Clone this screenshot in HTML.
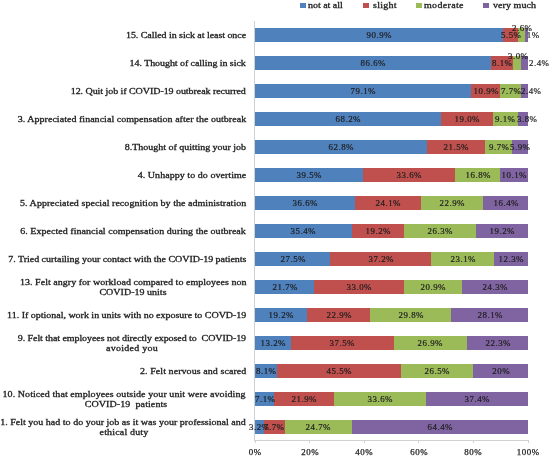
<!DOCTYPE html>
<html><head><meta charset="utf-8"><style>
html,body{margin:0;padding:0;background:#fff;}
body{width:550px;height:458px;position:relative;overflow:hidden;font-family:"Liberation Serif",serif;color:#1e1e1e;}
.b{position:absolute;height:14px;}
.v{position:absolute;font-size:8.4px;line-height:10px;height:10px;white-space:nowrap;letter-spacing:0.48px;text-indent:0.48px;transform:translateX(-50%) scaleX(1.06);transform-origin:50% 0;-webkit-text-stroke:0.2px #1e1e1e;}
.c{position:absolute;font-size:8.5px;line-height:12px;height:12px;white-space:nowrap;-webkit-text-stroke:0.3px #1e1e1e;}
.r{right:304.0px;transform:scaleX(1.1765);transform-origin:100% 50%;}
.m{transform:translateX(-50%) scaleX(1.1765);transform-origin:50% 50%;}
.t{position:absolute;font-size:8.4px;line-height:10px;white-space:nowrap;letter-spacing:0.48px;text-indent:0.48px;transform:translateX(-50%) scaleX(1.06);transform-origin:50% 0;-webkit-text-stroke:0.25px #1e1e1e;}
.lg{position:absolute;top:-0.7px;font-size:8.5px;line-height:12px;white-space:nowrap;-webkit-text-stroke:0.3px #1e1e1e;transform:scaleX(1.1765);transform-origin:0 50%;}
.sq{position:absolute;width:6px;height:5px;top:3px;}
.c,.v,.t,.lg{will-change:transform;}
</style></head><body>

<div style="position:absolute;left:254px;top:21px;width:1px;height:420px;background:#d0d0d0"></div>
<div style="position:absolute;left:254px;top:440px;width:275px;height:1px;background:#d0d0d0"></div>
<div style="position:absolute;left:254.5px;top:440px;width:1px;height:3px;background:#d0d0d0"></div>
<div class="t" style="left:255.0px;top:448px">0%</div>
<div style="position:absolute;left:309.1px;top:440px;width:1px;height:3px;background:#d0d0d0"></div>
<div class="t" style="left:309.6px;top:448px">20%</div>
<div style="position:absolute;left:363.7px;top:440px;width:1px;height:3px;background:#d0d0d0"></div>
<div class="t" style="left:364.2px;top:448px">40%</div>
<div style="position:absolute;left:418.3px;top:440px;width:1px;height:3px;background:#d0d0d0"></div>
<div class="t" style="left:418.8px;top:448px">60%</div>
<div style="position:absolute;left:472.9px;top:440px;width:1px;height:3px;background:#d0d0d0"></div>
<div class="t" style="left:473.4px;top:448px">80%</div>
<div style="position:absolute;left:527.5px;top:440px;width:1px;height:3px;background:#d0d0d0"></div>
<div class="t" style="left:528.0px;top:448px">100%</div>
<div class="b" style="left:255.00px;top:28px;width:248.16px;background:#4f81bd"></div>
<div class="b" style="left:503.16px;top:28px;width:15.01px;background:#c0504d"></div>
<div class="b" style="left:518.17px;top:28px;width:7.10px;background:#9bbb59"></div>
<div class="b" style="left:525.27px;top:28px;width:2.73px;background:#8064a2"></div>
<div class="v" style="left:379.08px;top:31.2px">90.9%</div>
<div class="v" style="left:510.66px;top:31.2px">5.5%</div>
<div class="v" style="left:521.72px;top:24.2px">2.6%</div>
<div class="v" style="left:532.63px;top:31.2px">1%</div>
<div class="c r" style="top:28.8px;letter-spacing:-0.050px;margin-right:0.050px">15. Called in sick at least once</div>
<div class="b" style="left:255.00px;top:56px;width:236.18px;background:#4f81bd"></div>
<div class="b" style="left:491.18px;top:56px;width:22.09px;background:#c0504d"></div>
<div class="b" style="left:513.27px;top:56px;width:8.18px;background:#9bbb59"></div>
<div class="b" style="left:521.45px;top:56px;width:6.55px;background:#8064a2"></div>
<div class="v" style="left:373.09px;top:59.2px">86.6%</div>
<div class="v" style="left:502.23px;top:59.2px">8.1%</div>
<div class="v" style="left:518.36px;top:52.2px">3.0%</div>
<div class="v" style="left:538.73px;top:59.2px">2.4%</div>
<div class="c r" style="top:56.8px;letter-spacing:-0.057px;margin-right:0.057px">14. Thought of calling in sick</div>
<div class="b" style="left:255.00px;top:84px;width:215.73px;background:#4f81bd"></div>
<div class="b" style="left:470.73px;top:84px;width:29.73px;background:#c0504d"></div>
<div class="b" style="left:500.45px;top:84px;width:21.00px;background:#9bbb59"></div>
<div class="b" style="left:521.45px;top:84px;width:6.55px;background:#8064a2"></div>
<div class="v" style="left:362.86px;top:87.2px">79.1%</div>
<div class="v" style="left:485.59px;top:87.2px">10.9%</div>
<div class="v" style="left:510.95px;top:87.2px">7.7%</div>
<div class="v" style="left:530.73px;top:87.2px">2.4%</div>
<div class="c r" style="top:84.8px;letter-spacing:-0.048px;margin-right:0.048px">12. Quit job if COVID-19 outbreak recurred</div>
<div class="b" style="left:255.00px;top:112px;width:186.00px;background:#4f81bd"></div>
<div class="b" style="left:441.00px;top:112px;width:51.82px;background:#c0504d"></div>
<div class="b" style="left:492.82px;top:112px;width:24.82px;background:#9bbb59"></div>
<div class="b" style="left:517.64px;top:112px;width:10.36px;background:#8064a2"></div>
<div class="v" style="left:348.00px;top:115.2px">68.2%</div>
<div class="v" style="left:466.91px;top:115.2px">19.0%</div>
<div class="v" style="left:505.23px;top:115.2px">9.1%</div>
<div class="v" style="left:526.82px;top:115.2px">3.8%</div>
<div class="c r" style="top:112.8px;letter-spacing:0.024px;margin-right:-0.024px">3. Appreciated financial compensation after the outbreak</div>
<div class="b" style="left:255.00px;top:140px;width:171.62px;background:#4f81bd"></div>
<div class="b" style="left:426.62px;top:140px;width:58.75px;background:#c0504d"></div>
<div class="b" style="left:485.37px;top:140px;width:26.51px;background:#9bbb59"></div>
<div class="b" style="left:511.88px;top:140px;width:16.12px;background:#8064a2"></div>
<div class="v" style="left:340.81px;top:143.2px">62.8%</div>
<div class="v" style="left:455.99px;top:143.2px">21.5%</div>
<div class="v" style="left:498.62px;top:143.2px">9.7%</div>
<div class="v" style="left:519.94px;top:143.2px">5.9%</div>
<div class="c r" style="top:140.8px;letter-spacing:-0.020px;margin-right:0.020px">8.Thought of quitting your job</div>
<div class="b" style="left:255.00px;top:168px;width:107.83px;background:#4f81bd"></div>
<div class="b" style="left:362.83px;top:168px;width:91.73px;background:#c0504d"></div>
<div class="b" style="left:454.56px;top:168px;width:45.86px;background:#9bbb59"></div>
<div class="b" style="left:500.43px;top:168px;width:27.57px;background:#8064a2"></div>
<div class="v" style="left:308.92px;top:171.2px">39.5%</div>
<div class="v" style="left:408.70px;top:171.2px">33.6%</div>
<div class="v" style="left:477.50px;top:171.2px">16.8%</div>
<div class="v" style="left:514.21px;top:171.2px">10.1%</div>
<div class="c r" style="top:168.8px;letter-spacing:0.037px;margin-right:-0.037px">4. Unhappy to do overtime</div>
<div class="b" style="left:255.00px;top:196px;width:99.92px;background:#4f81bd"></div>
<div class="b" style="left:354.92px;top:196px;width:65.79px;background:#c0504d"></div>
<div class="b" style="left:420.71px;top:196px;width:62.52px;background:#9bbb59"></div>
<div class="b" style="left:483.23px;top:196px;width:44.77px;background:#8064a2"></div>
<div class="v" style="left:304.96px;top:199.2px">36.6%</div>
<div class="v" style="left:387.81px;top:199.2px">24.1%</div>
<div class="v" style="left:451.97px;top:199.2px">22.9%</div>
<div class="v" style="left:505.61px;top:199.2px">16.4%</div>
<div class="c r" style="top:196.8px;letter-spacing:0.033px;margin-right:-0.033px">5. Appreciated special recognition by the administration</div>
<div class="b" style="left:255.00px;top:224px;width:96.55px;background:#4f81bd"></div>
<div class="b" style="left:351.55px;top:224px;width:52.36px;background:#c0504d"></div>
<div class="b" style="left:403.91px;top:224px;width:71.73px;background:#9bbb59"></div>
<div class="b" style="left:475.64px;top:224px;width:52.36px;background:#8064a2"></div>
<div class="v" style="left:303.27px;top:227.2px">35.4%</div>
<div class="v" style="left:377.73px;top:227.2px">19.2%</div>
<div class="v" style="left:439.77px;top:227.2px">26.3%</div>
<div class="v" style="left:501.82px;top:227.2px">19.2%</div>
<div class="c r" style="top:224.8px;letter-spacing:0.035px;margin-right:-0.035px">6. Expected financial compensation during the outbreak</div>
<div class="b" style="left:255.00px;top:252px;width:75.00px;background:#4f81bd"></div>
<div class="b" style="left:330.00px;top:252px;width:101.45px;background:#c0504d"></div>
<div class="b" style="left:431.45px;top:252px;width:63.00px;background:#9bbb59"></div>
<div class="b" style="left:494.45px;top:252px;width:33.55px;background:#8064a2"></div>
<div class="v" style="left:292.50px;top:255.2px">27.5%</div>
<div class="v" style="left:380.73px;top:255.2px">37.2%</div>
<div class="v" style="left:462.95px;top:255.2px">23.1%</div>
<div class="v" style="left:511.23px;top:255.2px">12.3%</div>
<div class="c r" style="top:252.8px;letter-spacing:-0.031px;margin-right:0.031px">7. Tried curtailing your contact with the COVID-19 patients</div>
<div class="b" style="left:255.00px;top:280px;width:59.30px;background:#4f81bd"></div>
<div class="b" style="left:314.30px;top:280px;width:90.18px;background:#c0504d"></div>
<div class="b" style="left:404.48px;top:280px;width:57.11px;background:#9bbb59"></div>
<div class="b" style="left:461.59px;top:280px;width:66.41px;background:#8064a2"></div>
<div class="v" style="left:284.65px;top:283.2px">21.7%</div>
<div class="v" style="left:359.39px;top:283.2px">33.0%</div>
<div class="v" style="left:433.04px;top:283.2px">20.9%</div>
<div class="v" style="left:494.80px;top:283.2px">24.3%</div>
<div class="c r" style="top:275.55px;letter-spacing:0.020px;margin-right:-0.020px">13. Felt angry for workload compared to employees non</div>
<div class="c m" style="top:286.05px;left:133.4px;letter-spacing:0.013px">COVID-19 units</div>
<div class="b" style="left:255.00px;top:308px;width:52.42px;background:#4f81bd"></div>
<div class="b" style="left:307.42px;top:308px;width:62.52px;background:#c0504d"></div>
<div class="b" style="left:369.93px;top:308px;width:81.35px;background:#9bbb59"></div>
<div class="b" style="left:451.29px;top:308px;width:76.71px;background:#8064a2"></div>
<div class="v" style="left:281.21px;top:311.2px">19.2%</div>
<div class="v" style="left:338.67px;top:311.2px">22.9%</div>
<div class="v" style="left:410.61px;top:311.2px">29.8%</div>
<div class="v" style="left:489.64px;top:311.2px">28.1%</div>
<div class="c r" style="top:308.8px;letter-spacing:-0.014px;margin-right:0.014px">11. If optional, work in units with no exposure to COVD-19</div>
<div class="b" style="left:255.00px;top:336px;width:36.07px;background:#4f81bd"></div>
<div class="b" style="left:291.07px;top:336px;width:102.48px;background:#c0504d"></div>
<div class="b" style="left:393.55px;top:336px;width:73.51px;background:#9bbb59"></div>
<div class="b" style="left:467.06px;top:336px;width:60.94px;background:#8064a2"></div>
<div class="v" style="left:273.04px;top:339.2px">13.2%</div>
<div class="v" style="left:342.31px;top:339.2px">37.5%</div>
<div class="v" style="left:430.30px;top:339.2px">26.9%</div>
<div class="v" style="left:497.53px;top:339.2px">22.3%</div>
<div class="c r" style="top:331.55px;letter-spacing:-0.059px;margin-right:0.059px">9. Felt that employees not directly exposed to&nbsp; COVID-19</div>
<div class="c m" style="top:342.05px;left:131.8px;letter-spacing:0.208px">avoided you</div>
<div class="b" style="left:255.00px;top:364px;width:22.09px;background:#4f81bd"></div>
<div class="b" style="left:277.09px;top:364px;width:124.09px;background:#c0504d"></div>
<div class="b" style="left:401.18px;top:364px;width:72.27px;background:#9bbb59"></div>
<div class="b" style="left:473.45px;top:364px;width:54.55px;background:#8064a2"></div>
<div class="v" style="left:266.05px;top:367.2px">8.1%</div>
<div class="v" style="left:339.14px;top:367.2px">45.5%</div>
<div class="v" style="left:437.32px;top:367.2px">26.5%</div>
<div class="v" style="left:500.73px;top:367.2px">20%</div>
<div class="c r" style="top:364.8px;letter-spacing:0.052px;margin-right:-0.052px">2. Felt nervous and scared</div>
<div class="b" style="left:255.00px;top:392px;width:19.38px;background:#4f81bd"></div>
<div class="b" style="left:274.38px;top:392px;width:59.79px;background:#c0504d"></div>
<div class="b" style="left:334.17px;top:392px;width:91.73px;background:#9bbb59"></div>
<div class="b" style="left:425.90px;top:392px;width:102.10px;background:#8064a2"></div>
<div class="v" style="left:264.69px;top:395.2px">7.1%</div>
<div class="v" style="left:304.28px;top:395.2px">21.9%</div>
<div class="v" style="left:380.03px;top:395.2px">33.6%</div>
<div class="v" style="left:476.95px;top:395.2px">37.4%</div>
<div class="c r" style="top:387.55px;letter-spacing:0.057px;margin-right:-0.057px">10. Noticed that employees outside your unit were avoiding</div>
<div class="c m" style="top:398.05px;left:125.5px;letter-spacing:0.072px">COVID-19&nbsp; patients</div>
<div class="b" style="left:255.00px;top:420px;width:8.74px;background:#4f81bd"></div>
<div class="b" style="left:263.74px;top:420px;width:21.02px;background:#c0504d"></div>
<div class="b" style="left:284.76px;top:420px;width:67.43px;background:#9bbb59"></div>
<div class="b" style="left:352.19px;top:420px;width:175.81px;background:#8064a2"></div>
<div class="v" style="left:259.37px;top:423.2px">3.2%</div>
<div class="v" style="left:274.25px;top:423.2px">7.7%</div>
<div class="v" style="left:318.47px;top:423.2px">24.7%</div>
<div class="v" style="left:440.09px;top:423.2px">64.4%</div>
<div class="c r" style="top:415.55px;letter-spacing:0.009px;margin-right:-0.009px">1. Felt you had to do your job as it was your professional and</div>
<div class="c m" style="top:426.05px;left:124.0px;letter-spacing:0.132px">ethical duty</div>
<div class="sq" style="left:300px;background:#4f81bd"></div>
<div class="lg" style="left:307.5px;letter-spacing:-0.02px">not at all</div>
<div class="sq" style="left:363px;background:#c0504d"></div>
<div class="lg" style="left:373px;letter-spacing:0.2px">slight</div>
<div class="sq" style="left:416px;background:#9bbb59"></div>
<div class="lg" style="left:424.2px;letter-spacing:0.28px">moderate</div>
<div class="sq" style="left:483px;background:#8064a2"></div>
<div class="lg" style="left:493.3px;letter-spacing:0.05px">very much</div>
</body></html>
